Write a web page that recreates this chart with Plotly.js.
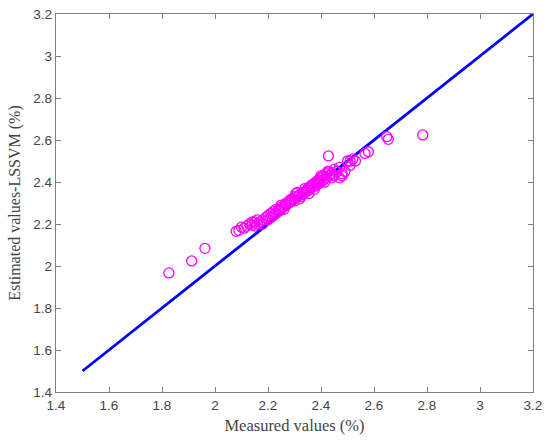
<!DOCTYPE html>
<html>
<head>
<meta charset="utf-8">
<script src="https://cdn.plot.ly/plotly-3.0.1.min.js"></script>
<style>html,body{margin:0;padding:0;background:#fff;}#chart{width:550px;height:447px;}</style>
</head>
<body>
<div id="chart"></div>
<script>
const measured = [1.826,1.912,1.962,2.428,2.566,2.579,2.648,2.654,2.784,
2.08,2.09,2.10,2.11,2.12,2.13,2.14,2.15,2.15,2.16,2.17,2.18,2.18,2.19,2.20,2.20,2.21,2.22,2.22,2.23,2.24,2.24,2.25,2.25,2.26,2.27,2.27,2.28,2.28,2.29,2.29,2.30,2.30,2.31,2.32,2.32,2.33,2.33,2.34,2.35,2.35,2.36,2.36,2.37,2.37,2.38,2.38,2.39,2.39,2.40,2.40,2.41,2.41,2.42,2.42,2.43,2.43,2.44,2.44,2.45,2.45,2.46,2.47,2.47,2.48,2.48,2.49,2.50,2.51,2.51,2.52,2.53,2.25,2.23,2.21,2.16,2.14,2.31,2.34,2.40,
2.305,2.325,2.345,2.365,2.385,2.405,2.425,2.445,2.355,2.375,2.395,2.415,2.285,2.265,2.245];
const estimated = [1.967,2.024,2.084,2.524,2.536,2.544,2.616,2.603,2.624,
2.165,2.17,2.185,2.18,2.19,2.2,2.195,2.21,2.19,2.2,2.21,2.22,2.2,2.23,2.22,2.24,2.25,2.24,2.26,2.25,2.27,2.26,2.28,2.29,2.27,2.29,2.30,2.30,2.31,2.31,2.32,2.33,2.31,2.33,2.34,2.32,2.35,2.34,2.35,2.37,2.36,2.37,2.38,2.38,2.39,2.40,2.38,2.41,2.39,2.42,2.40,2.41,2.43,2.44,2.42,2.43,2.45,2.44,2.42,2.43,2.46,2.45,2.42,2.47,2.44,2.43,2.45,2.50,2.48,2.50,2.51,2.50,2.27,2.27,2.23,2.22,2.21,2.35,2.37,2.43,
2.345,2.33,2.36,2.385,2.395,2.425,2.45,2.43,2.345,2.365,2.405,2.40,2.315,2.295,2.265];
const lineX = [1.5, 3.2];
const lineY = [1.5, 3.2];
const tickVals = [1.4,1.6,1.8,2,2.2,2.4,2.6,2.8,3,3.2];
const tickText = ['1.4','1.6','1.8','2','2.2','2.4','2.6','2.8','3','3.2'];

const axisCommon = {
  range: [1.4, 3.2],
  tickvals: tickVals,
  ticktext: tickText,
  ticks: 'inside',
  ticklen: 5,
  tickwidth: 1,
  tickcolor: '#808080',
  showline: true,
  linecolor: '#808080',
  linewidth: 1.3,
  mirror: 'ticks',
  showgrid: false,
  zeroline: false,
  tickfont: {family: 'Liberation Sans, Arial, sans-serif', size: 13.5, color: '#444'}
};

const data = [
  {x: lineX, y: lineY, mode: 'lines', type: 'scatter',
   line: {color: '#0000FF', width: 2.8}, hoverinfo: 'skip'},
  {x: measured, y: estimated, mode: 'markers', type: 'scatter',
   marker: {symbol: 'circle-open', size: 10, color: '#FF00FF', line: {width: 1.3, color: '#FF00FF'}}}
];

const layout = {
  width: 550, height: 447,
  margin: {l: 56, r: 17, t: 14, b: 55},
  showlegend: false,
  paper_bgcolor: '#fff', plot_bgcolor: '#fff',
  xaxis: Object.assign({}, axisCommon, {
    title: {text: 'Measured values (%)', font: {family: 'Liberation Serif, Times New Roman, serif', size: 16.5, color: '#444'}, standoff: 8}
  }),
  yaxis: Object.assign({}, axisCommon, {
    title: {text: 'Estimated values-LSSVM (%)', font: {family: 'Liberation Serif, Times New Roman, serif', size: 16, color: '#444'}, standoff: 8}
  })
};

Plotly.newPlot('chart', data, layout, {staticPlot: true, displayModeBar: false});
</script>
</body>
</html>
